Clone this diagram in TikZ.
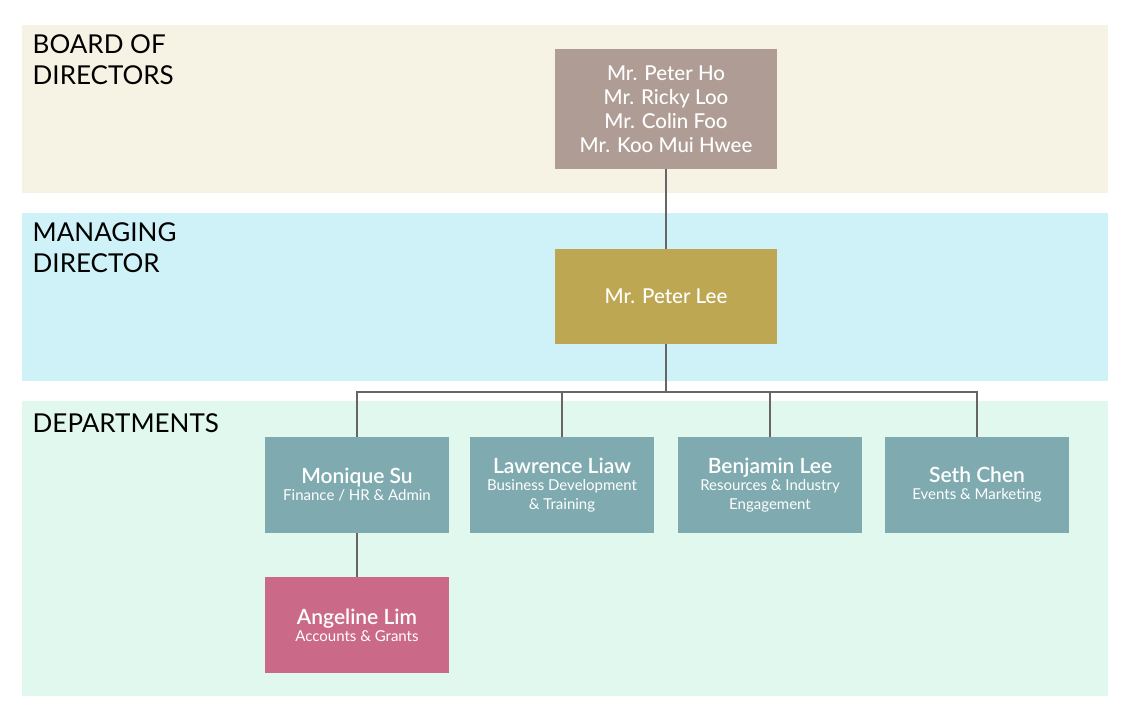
\documentclass[tikz,border=0pt]{standalone}
\usepackage{fontspec}
\setmainfont{Lato}
\newfontfamily\latomed{Lato Medium}
\newfontfamily\latosemi{Lato Semibold}
\definecolor{bandA}{HTML}{F6F3E4}
\definecolor{bandB}{HTML}{CEF2F7}
\definecolor{bandC}{HTML}{E1F8EF}
\definecolor{boardc}{HTML}{AF9C94}
\definecolor{mdc}{HTML}{BEA752}
\definecolor{deptc}{HTML}{7FABB0}
\definecolor{subc}{HTML}{CB6A88}
\definecolor{linec}{HTML}{666666}
\tikzset{
  band/.style={fill=#1, draw=none},
  bandlabel/.style={anchor=north west, align=left, inner sep=0pt, text=black, font=\fontsize{26}{31}\selectfont},
  box/.style={fill=#1, draw=none, text=white, align=center, inner sep=0pt, minimum width=184pt, minimum height=96pt, font=\fontsize{15}{19}\selectfont},
  bigbox/.style={fill=#1, draw=none, text=white, align=center, inner sep=0pt, minimum width=222pt, font=\latomed\fontsize{20.5}{24}\selectfont},
  conn/.style={draw=linec, line width=1.6pt},
}
\newcommand{\nm}[1]{{\latosemi\fontsize{21}{21}\selectfont #1}}
\begin{document}
\begin{tikzpicture}[x=1pt,y=-1pt]
\useasboundingbox (0,0) rectangle (1139,721);
\fill[white] (0,0) rectangle (1139,721);
\path[band=bandA] (22,25) rectangle (1108,193);
\path[band=bandB] (22,213) rectangle (1108,381);
\path[band=bandC] (22,401) rectangle (1108,696);
\node[bandlabel] (l1) at (32.5,34) {BOARD OF\\DIRECTORS};
\node[bandlabel] (l2) at (32.5,222) {MANAGING\\DIRECTOR};
\node[bandlabel] (l3) at (32.5,413) {DEPARTMENTS};

\node[bigbox=boardc, minimum height=120pt] (board) at (666,109)
  {Mr. Peter Ho\\Mr. Ricky Loo\\Mr. Colin Foo\\Mr. Koo Mui Hwee};
\node[bigbox=mdc, minimum height=95pt] (md) at (666,296.5) {Mr. Peter Lee};

\node[box=deptc] (d1) at (357,485) {\nm{Monique Su}\\[-2pt]Finance / HR \& Admin};
\node[box=deptc] (d2) at (562,485) {\nm{Lawrence Liaw}\\[-2pt]Business Development\\\& Training};
\node[box=deptc] (d3) at (770,485) {\nm{Benjamin Lee}\\[-2pt]Resources \& Industry\\Engagement};
\node[box=deptc] (d4) at (977,485) {\nm{Seth Chen}\\[-2pt]Events \& Marketing};
\node[box=subc] (s1) at (357,625) {\nm{Angeline Lim}\\[-2pt]Accounts \& Grants};

\coordinate (bus) at (666,392);
\draw[conn] (board.south) -- (md.north);
\draw[conn] (md.south) -- (bus);
\draw[conn] (d1.north) |- (bus) -| (d4.north);
\draw[conn] (d2.north) -- (d2.north |- bus);
\draw[conn] (d3.north) -- (d3.north |- bus);
\draw[conn] (d1.south) -- (s1.north);
\end{tikzpicture}
\end{document}
